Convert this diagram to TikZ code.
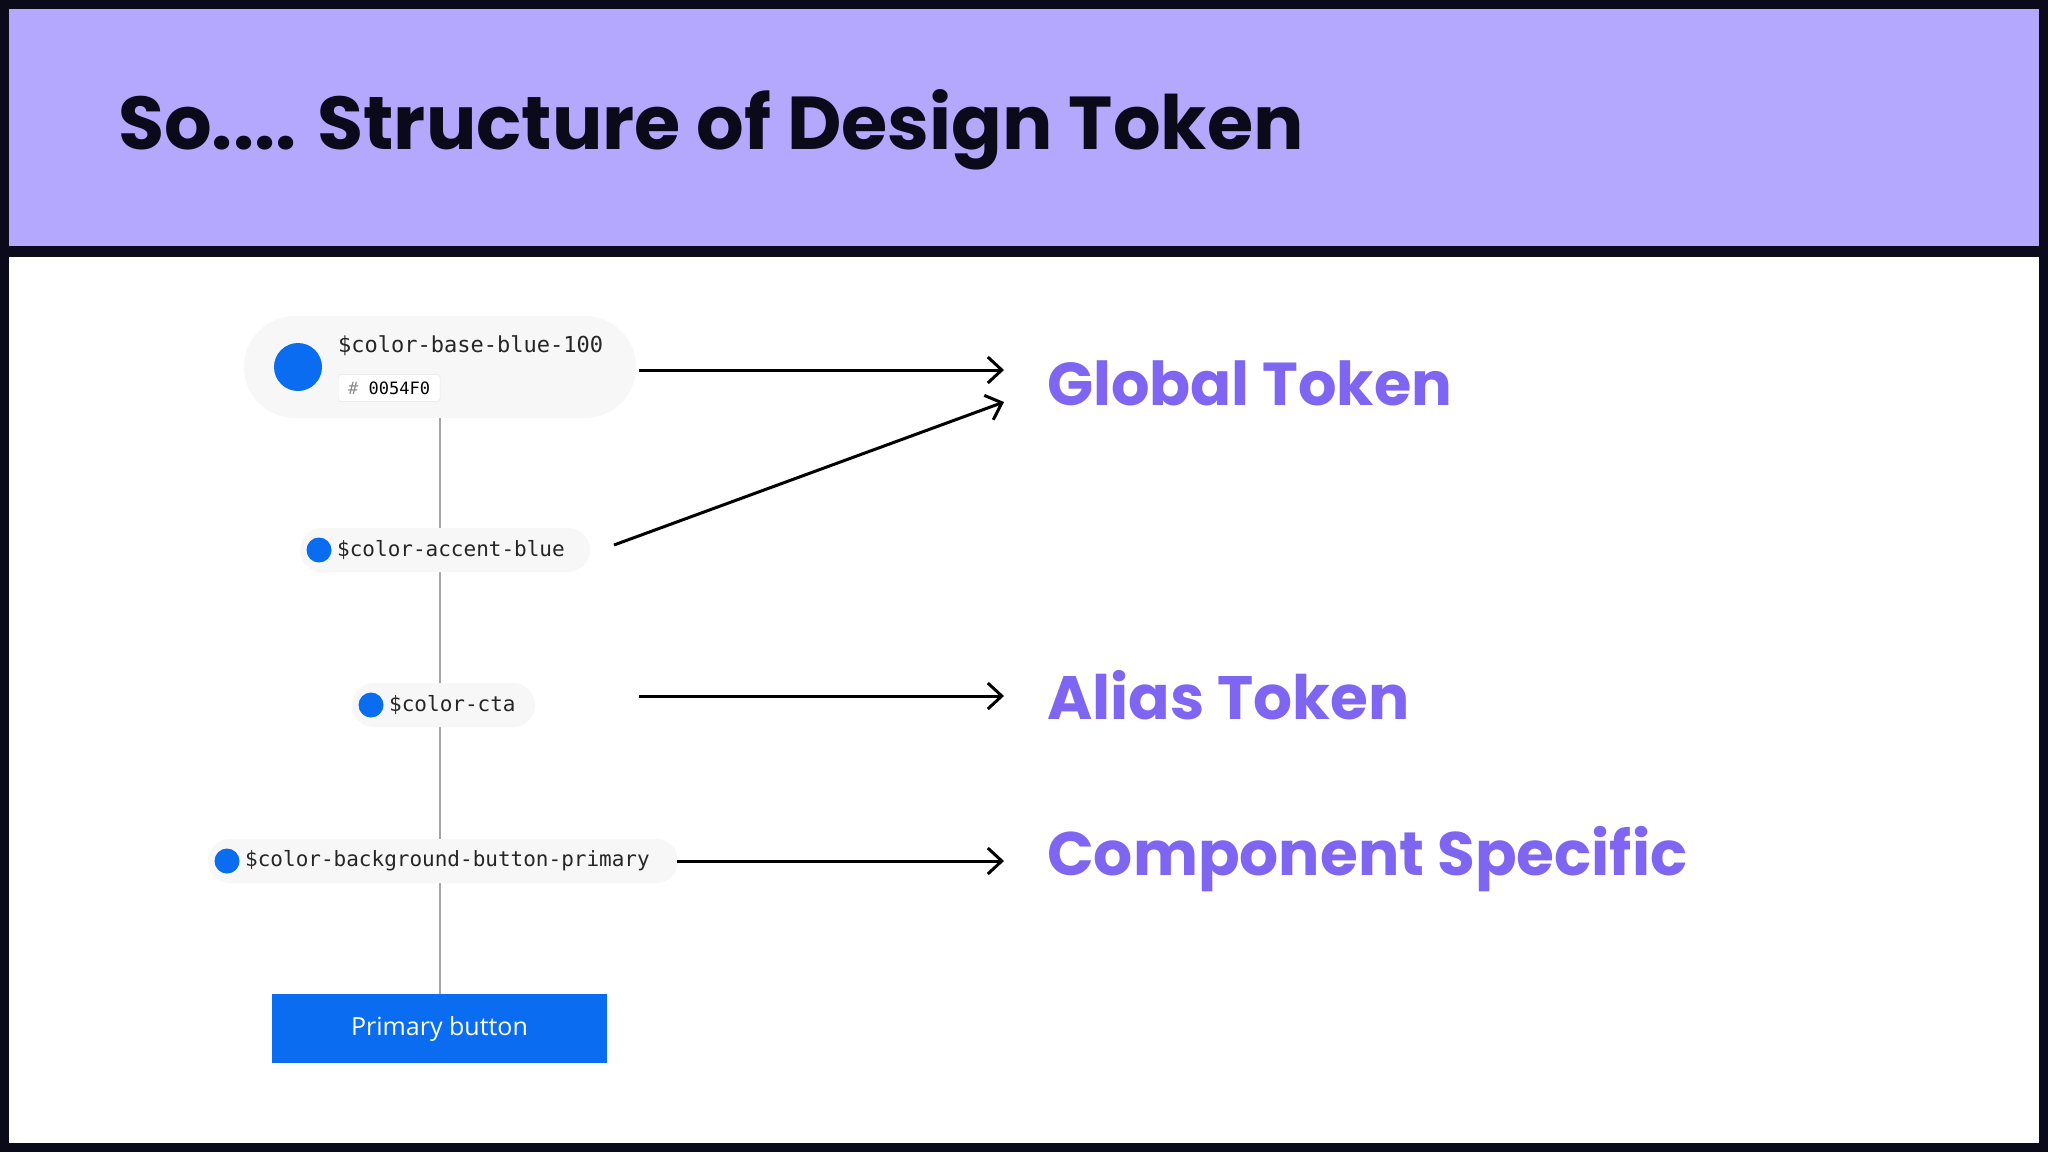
\documentclass[tikz,border=0pt]{standalone}
\usepackage{fontspec}
\setmainfont{Poppins}
\newfontfamily\monof{DejaVu Sans Mono}
\newfontfamily\popb{Poppins Bold}
\newfontfamily\btnf{Open Sans}
\usetikzlibrary{arrows.meta}
\definecolor{frame}{HTML}{0B0A1A}
\definecolor{hdr}{HTML}{B3A8FD}
\definecolor{tokblue}{HTML}{0A6CF0}
\definecolor{lbl}{HTML}{7E66F2}
\definecolor{pill}{HTML}{F7F7F7}
\tikzset{
  mono/.style={font=\monof\fontsize{21}{24}\selectfont, text=black!85, anchor=west, inner sep=0pt},
  dotb/.style={circle, fill=tokblue, inner sep=0pt},
  arr/.style={line width=3pt, -{Straight Barb[length=14pt,width=26pt,line width=3pt]}},
  lab/.style={anchor=west, text=lbl, inner sep=0pt},
}
\begin{document}
\begin{tikzpicture}[x=1pt,y=-1pt]
\useasboundingbox (0,0) rectangle (2048,1152);
\fill[frame] (0,0) rectangle (2048,1152);
\fill[hdr] (9,9) rectangle (2039,246);
\fill[white] (9,257) rectangle (2039,1143);
\node[anchor=west, inner sep=0pt, text=frame] (title) at (118,130)
  {\resizebox{1185pt}{!}{\popb So.... Structure of Design Token}};
% pills
\fill[pill, rounded corners=51pt] (244,316) rectangle (636,418);
% vertical line
\coordinate (vtop) at (440,418);
\coordinate (vbot) at (440,994);
\draw[black!35, line width=1.6pt] (vtop) -- (vbot);
\fill[pill, rounded corners=22pt] (300,528) rectangle (590,572);
\fill[pill, rounded corners=22pt] (352,683) rectangle (535,727);
\fill[pill, rounded corners=22pt] (208,839) rectangle (678,883);
% tokens
\node[dotb, minimum size=48pt] (d1) at (298,367) {};
\node[mono, font=\monof\fontsize{22}{24}\selectfont] (t1) at (338,346) {\$color-base-blue-100};
\node[draw=black!10, fill=white, rounded corners=3pt, anchor=west, inner xsep=10pt, inner ysep=7pt,
  font=\monof\fontsize{17}{20}\selectfont] (hex) at (338,388) {\textcolor{black!45}{\#} 0054F0};
\node[dotb, minimum size=25pt] (d2) at (319,550) {};
\node[mono] (t2) at (337,550) {\$color-accent-blue};
\node[dotb, minimum size=25pt] (d3) at (371,705) {};
\node[mono] (t3) at (389,705) {\$color-cta};
\node[dotb, minimum size=25pt] (d4) at (227,861) {};
\node[mono] (t4) at (245,861) {\$color-background-button-primary};
\node[fill=tokblue, minimum width=335pt, minimum height=69pt, inner sep=0pt, text=white,
  font=\btnf\fontsize{25}{28}\selectfont] (btn) at (439.5,1028.5) {Primary button};
% labels
\node[lab] (g) at (1047,383) {\resizebox{405pt}{!}{\popb Global Token}};
\node[lab] (a) at (1047,695) {\resizebox{362pt}{!}{\popb Alias Token}};
\node[lab] (c) at (1047,859) {\resizebox{640pt}{!}{\popb Component Specific}};
% arrows
\coordinate (s1) at (639,370); \coordinate (e1) at (1004,370);
\coordinate (s2) at (614,545); \coordinate (e2) at (1004,402);
\coordinate (s3) at (639,696); \coordinate (e3) at (1004,696);
\coordinate (s4) at (677,861); \coordinate (e4) at (1004,861);
\draw[arr] (s1) -- (e1);
\draw[arr] (s2) -- (e2);
\draw[arr] (s3) -- (e3);
\draw[arr] (s4) -- (e4);
\end{tikzpicture}
\end{document}
